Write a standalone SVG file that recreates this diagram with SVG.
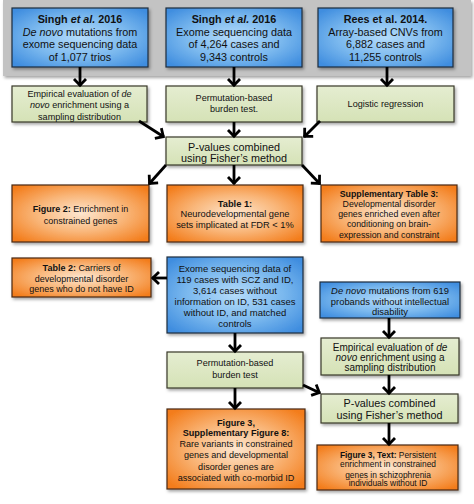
<svg xmlns="http://www.w3.org/2000/svg" width="474" height="504" viewBox="0 0 474 504">
<defs>
  <radialGradient id="gBlue" cx="50%" cy="50%" r="65%">
    <stop offset="0" stop-color="#b4dbfa"/>
    <stop offset="0.55" stop-color="#7ab8ee"/>
    <stop offset="1" stop-color="#3f8ddf"/>
  </radialGradient>
  <radialGradient id="gOrange" cx="50%" cy="50%" r="65%">
    <stop offset="0" stop-color="#fde6cf"/>
    <stop offset="0.5" stop-color="#f9b679"/>
    <stop offset="1" stop-color="#f37c1a"/>
  </radialGradient>
  <linearGradient id="gGreen" x1="0" y1="0" x2="0" y2="1">
    <stop offset="0" stop-color="#e5edd1"/>
    <stop offset="1" stop-color="#d5e2b6"/>
  </linearGradient>
  <filter id="sh" x="-10%" y="-10%" width="125%" height="130%">
    <feDropShadow dx="1.5" dy="2" stdDeviation="1.5" flood-color="#000" flood-opacity="0.35"/>
  </filter>
  <marker id="arr" viewBox="-10 -8 12 16" refX="0" refY="0" markerWidth="12" markerHeight="16" markerUnits="userSpaceOnUse" orient="auto">
    <path d="M-7,-6 L-0.8,0 L-7,6" fill="none" stroke="#000" stroke-width="2.8"/>
  </marker>
  <style>
    text { font-family: "Liberation Sans", Arial, sans-serif; fill: #111; text-anchor: middle; }
    .b { font-weight: bold; }
    .i { font-style: italic; }
    .blue { fill: url(#gBlue); stroke: #1c2c3e; stroke-width: 1.2; filter: url(#sh); }
    .orange { fill: url(#gOrange); stroke: #4a2a10; stroke-width: 1.2; filter: url(#sh); }
    .green { fill: url(#gGreen); stroke: #38382a; stroke-width: 1.2; filter: url(#sh); }
    .conn line { stroke: #000; stroke-width: 2.8; marker-end: url(#arr); }
  </style>
</defs>
<rect x="0" y="0" width="474" height="504" fill="#ffffff"/>
<rect id="panel" x="3" y="0" width="468" height="76" fill="#c3c3c3" filter="url(#sh)"/>

<g id="src1" font-size="10.8">
  <rect class="blue" x="12" y="8" width="136" height="59"/>
  <text x="80" y="23"><tspan class="b">Singh </tspan><tspan class="b i">et al.</tspan><tspan class="b"> 2016</tspan></text>
  <text x="80" y="36"><tspan class="i">De novo</tspan> mutations from</text>
  <text x="80" y="47.5">exome sequencing data</text>
  <text x="80" y="60.5">of 1,077 trios</text>
</g>
<g id="src2" font-size="10.8">
  <rect class="blue" x="166" y="8" width="136" height="59"/>
  <text x="234" y="23"><tspan class="b">Singh </tspan><tspan class="b i">et al.</tspan><tspan class="b"> 2016</tspan></text>
  <text x="234" y="36">Exome sequencing data</text>
  <text x="234" y="47.5">of 4,264 cases and</text>
  <text x="234" y="60.5">9,343 controls</text>
</g>
<g id="src3" font-size="10.8">
  <rect class="blue" x="318" y="8" width="135" height="59"/>
  <text class="b" x="385.5" y="23">Rees et al. 2014.</text>
  <text x="385.5" y="36">Array-based CNVs from</text>
  <text x="385.5" y="47.5">6,882 cases and</text>
  <text x="385.5" y="60.5">11,255 controls</text>
</g>

<g id="m1" font-size="9.1">
  <rect class="green" x="12" y="86" width="135" height="36"/>
  <text x="79.5" y="96.5">Empirical evaluation of <tspan class="i">de</tspan></text>
  <text x="79.5" y="108"><tspan class="i">novo</tspan> enrichment using  a</text>
  <text x="79.5" y="119.5">sampling distribution</text>
</g>
<g id="m2" font-size="9.1">
  <rect class="green" x="166" y="86" width="136" height="36"/>
  <text x="234" y="101">Permutation-based</text>
  <text x="234" y="112">burden test.</text>
</g>
<g id="m3" font-size="9.1">
  <rect class="green" x="317" y="86" width="137" height="36"/>
  <text x="385.5" y="107">Logistic regression</text>
</g>

<g id="p1" font-size="10.8">
  <rect class="green" x="166" y="137" width="136" height="28"/>
  <text x="234" y="150.5">P-values combined</text>
  <text x="234" y="162">using Fisher’s method</text>
</g>

<g id="r1" font-size="9">
  <rect class="orange" x="12" y="185" width="137" height="57"/>
  <text x="80.5" y="212"><tspan class="b">Figure 2:</tspan> Enrichment in</text>
  <text x="80.5" y="223.5">constrained genes</text>
</g>
<g id="r2" font-size="9.3">
  <rect class="orange" x="167" y="185" width="136" height="57"/>
  <text class="b" x="235" y="206.5">Table 1:</text>
  <text x="235" y="217">Neurodevelopmental gene</text>
  <text x="235" y="227.5">sets implicated at FDR &lt; 1%</text>
</g>
<g id="r3" font-size="8.8">
  <rect class="orange" x="321" y="185" width="136" height="57"/>
  <text class="b" x="389" y="197">Supplementary Table 3:</text>
  <text x="389" y="207">Developmental disorder</text>
  <text x="389" y="217">genes enriched even after</text>
  <text x="389" y="227">conditioning on brain-</text>
  <text x="389" y="237.5">expression and constraint</text>
</g>

<g id="t2" font-size="9">
  <rect class="orange" x="12" y="258" width="139" height="39"/>
  <text x="81.5" y="270.5"><tspan class="b">Table 2:</tspan> Carriers of</text>
  <text x="81.5" y="281.5">developmental disorder</text>
  <text x="81.5" y="292">genes who do not have ID</text>
</g>

<g id="src4" font-size="9.5">
  <rect class="blue" x="167" y="257" width="136" height="76"/>
  <text x="235" y="271.5">Exome sequencing data of</text>
  <text x="235" y="282.5">119 cases with SCZ and ID,</text>
  <text x="235" y="293.5">3,614 cases without</text>
  <text x="235" y="304.5">information on ID, 531 cases</text>
  <text x="235" y="315.5">without ID, and matched</text>
  <text x="235" y="326.5">controls</text>
</g>

<g id="src5" font-size="9.4">
  <rect class="blue" x="320" y="282" width="140" height="36"/>
  <text x="390" y="293.5"><tspan class="i">De novo</tspan> mutations from 619</text>
  <text x="390" y="304.5">probands without intellectual</text>
  <text x="390" y="315">disability</text>
</g>

<g id="m4" font-size="9.1">
  <rect class="green" x="167" y="352" width="136" height="36"/>
  <text x="235" y="366">Permutation-based</text>
  <text x="235" y="377.5">burden test</text>
</g>

<g id="m5" font-size="10">
  <rect class="green" x="321" y="338" width="138" height="37"/>
  <text x="390" y="350.5">Empirical evaluation of <tspan class="i">de</tspan></text>
  <text x="390" y="361"><tspan class="i">novo</tspan> enrichment using a</text>
  <text x="390" y="371">sampling distribution</text>
</g>

<g id="p2" font-size="10.8">
  <rect class="green" x="321" y="394" width="137" height="29"/>
  <text x="389.5" y="407">P-values combined</text>
  <text x="389.5" y="419">using Fisher’s method</text>
</g>

<g id="r4" font-size="9.1">
  <rect class="orange" x="167" y="409" width="138" height="80"/>
  <text class="b" x="236" y="425.5">Figure 3,</text>
  <text class="b" x="236" y="435.5">Supplementary Figure 8:</text>
  <text x="236" y="446.5">Rare variants in constrained</text>
  <text x="236" y="458">genes and developmental</text>
  <text x="236" y="469.5">disorder genes are</text>
  <text x="236" y="480.5">associated with co-morbid ID</text>
</g>

<g id="r5" font-size="8.4">
  <rect class="orange" x="317" y="445" width="141" height="45"/>
  <text x="388" y="457.5"><tspan class="b">Figure 3, Text:</tspan> Persistent</text>
  <text x="388" y="466.5">enrichment in constrained</text>
  <text x="388" y="477.5">genes in schizophrenia</text>
  <text x="388" y="486">individuals without ID</text>
</g>

<g id="connectors" class="conn">
  <line x1="80" y1="67" x2="80" y2="86"/>
  <line x1="234" y1="67" x2="234" y2="86"/>
  <line x1="387" y1="67" x2="387" y2="86"/>
  <line x1="139" y1="121" x2="164" y2="137"/>
  <line x1="234" y1="122" x2="234" y2="137"/>
  <line x1="320" y1="121" x2="304" y2="137"/>
  <line x1="166" y1="165" x2="149" y2="184"/>
  <line x1="234" y1="165" x2="234" y2="184"/>
  <line x1="302" y1="165" x2="320" y2="184"/>
  <line x1="167" y1="278" x2="152" y2="278"/>
  <line x1="235" y1="333" x2="235" y2="352"/>
  <line x1="235" y1="388" x2="235" y2="409"/>
  <line x1="303" y1="385" x2="320" y2="393"/>
  <line x1="389" y1="318" x2="389" y2="338"/>
  <line x1="389" y1="375" x2="389" y2="394"/>
  <line x1="389" y1="423" x2="389" y2="445"/>
</g>
</svg>
